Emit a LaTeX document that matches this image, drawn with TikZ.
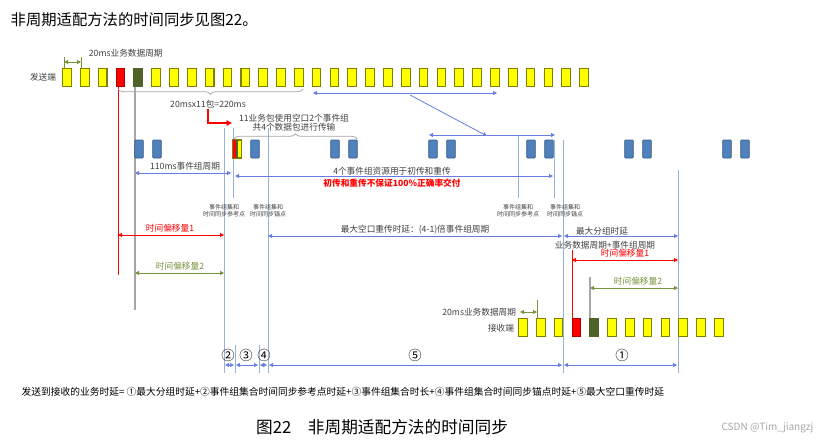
\documentclass[tikz,border=0pt]{standalone}
\usepackage{fontspec}
\setmainfont{Noto Sans CJK SC}
\usetikzlibrary{arrows.meta,decorations.pathreplacing}
\definecolor{yel}{HTML}{FFFF00}
\definecolor{yelb}{HTML}{7F7F00}
\definecolor{dgreen}{HTML}{4F6228}
\definecolor{bluebox}{HTML}{4F81BD}
\definecolor{blueb}{HTML}{385D8A}
\definecolor{lblue}{HTML}{95B3D7}
\definecolor{olive}{HTML}{77933C}
\definecolor{gline}{HTML}{A6A6A6}
\definecolor{txt}{HTML}{404040}
\tikzset{
 ybox/.style={draw=yelb,fill=yel,line width=0.8pt,minimum width=6.5pt,minimum height=14pt,inner sep=0pt},
 bbox/.style={draw=blueb,fill=bluebox,line width=0.6pt,rounded corners=0.8pt,minimum width=6.5pt,minimum height=13.5pt,inner sep=0pt},
 vl/.style={lblue,line width=0.6pt},
 barr/.style={lblue!70!blue,line width=0.6pt,{Triangle[length=3pt,width=3pt]}-{Triangle[length=3pt,width=3pt]}},
 rarr/.style={red,line width=0.6pt,{Triangle[length=3pt,width=3pt]}-{Triangle[length=3pt,width=3pt]}},
 oarr/.style={olive,line width=0.6pt,{Triangle[length=3pt,width=3pt]}-{Triangle[length=3pt,width=3pt]}},
 lab/.style={font=\fontsize{6.5}{7}\selectfont,text=txt,inner sep=0.5pt},
 tiny/.style={font=\fontsize{4.5}{5.2}\selectfont,text=txt,align=center,inner sep=0pt},
 num/.style={font=\fontsize{10}{11}\selectfont,inner sep=0pt},
}
\begin{document}
\begin{tikzpicture}[x=0.75pt,y=-0.75pt]
\useasboundingbox (0,0) rectangle (830,442);
\node[anchor=west,font=\fontsize{11.5}{13}\selectfont] (title) at (6,20) {非周期适配方法的时间同步见图22。};
% vertical lines (behind boxes)
\draw[red,line width=0.6pt] (118,87)--(118,275);
\draw[gline,line width=0.8pt] (135,87)--(135,310);
\draw[vl] (224,128)--(224,373);
\draw[vl] (233,128)--(233,198);
\draw[vl] (268,128)--(268,373);
\draw[vl] (518,135)--(518,198);
\draw[vl] (554,140)--(554,198);
\draw[vl] (563,140)--(563,373);
\draw[vl] (678,170)--(678,373);
\draw[vl] (235,345)--(235,373);
\draw[vl] (259,345)--(259,373);
% sender row
\foreach \i in {0,...,29}{
  \pgfmathsetmacro\xx{67+17.83*\i}
  \node[ybox] (s\i) at (\xx,77.5) {};
}
\node[ybox,fill=red,draw=red!70!black] (sr) at (s3) {};
\node[ybox,fill=dgreen,draw=dgreen] (sg) at (s4) {};
\node[lab,anchor=east] (snd) at (57,77) {发送端};
\node[lab,anchor=west] (per1) at (88,53) {20ms业务数据周期};
\coordinate (pa) at (64,62); \coordinate (pb) at (81,62);
\draw[olive,line width=0.6pt] (64,57)--(64,68) (81,57)--(81,68);
\draw[oarr] (pa)--(pb);
% brace
\draw[gline,line width=0.6pt,decorate,decoration={brace,mirror,amplitude=4pt}] (118,89)--(303,89);
\node[lab] (b220) at (208,104) {20msx11包=220ms};
\coordinate (ra) at (208,109); \coordinate (rb) at (232,123);
\draw[red,line width=1pt,-{Triangle[length=4pt,width=4pt]}] (ra)|-(rb);
\node[lab,align=center] (b11) at (294,123) {11业务包使用空口2个事件组\\共4个数据包进行传输};
\draw[gline,line width=0.6pt,decorate,decoration={brace,amplitude=4pt}] (234,139)--(357,139);
% blue arrows top
\coordinate (ta) at (313,93); \coordinate (tb) at (497,93);
\draw[barr] (ta)--(tb);
\coordinate (da) at (410,95); \coordinate (db) at (487,136);
\draw[lblue!70!blue,line width=0.6pt,-{Triangle[length=3pt,width=3pt]}] (da)--(db);
\coordinate (ea) at (429,135); \coordinate (eb) at (555,135);
\draw[barr] (ea)--(eb);
% blue boxes
\foreach \i in {0,...,6}{
  \pgfmathsetmacro\xx{139+98*\i}
  \node[bbox] (ba\i) at (\xx,149) {};
  \node[bbox] (bb\i) at (\xx+18,149) {};
}
\node[ybox,minimum height=13.5pt,draw=yelb] (mix) at (ba1) {};
\fill[red] ([xshift=0.4pt,yshift=-0.4pt]mix.north west) rectangle ([xshift=2.6pt,yshift=0.4pt]mix.south west);
\fill[dgreen] ([xshift=2.6pt,yshift=-0.4pt]mix.north west) rectangle ([xshift=4.5pt,yshift=0.4pt]mix.south west);
% period arrows
\node[lab] (p110) at (185,166) {110ms事件组周期};
\coordinate (qa) at (135,173); \coordinate (qb) at (231,173);
\draw[barr] (qa)--(qb);
\coordinate (wa) at (235,176); \coordinate (wb) at (553,176);
\draw[barr] (wa)--(wb);
\node[lab,fill=white] (p4) at (392,171) {4个事件组资源用于初传和重传};
\node[lab,text=red,font=\fontsize{6.5}{7}\selectfont\bfseries] (pr) at (392,183) {初传和重传不保证100\%正确率交付};
% small labels
\node[tiny] (l1) at (224,211) {事件组集和\\时间同步参考点};
\node[tiny] (l2) at (268,211) {事件组集和\\时间同步锚点};
\node[tiny] (l3) at (518,211) {事件组集和\\时间同步参考点};
\node[tiny] (l4) at (565,211) {事件组集和\\时间同步锚点};
% offsets left
\node[lab,text=red] (o1) at (170,228) {时间偏移量1};
\coordinate (o1a) at (118,235); \coordinate (o1b) at (224,235);
\draw[rarr] (o1a)--(o1b);
\node[lab,text=olive] (o2) at (180,266) {时间偏移量2};
\coordinate (o2a) at (135,273); \coordinate (o2b) at (224,273);
\draw[oarr] (o2a)--(o2b);
\node[lab] (mx) at (415,230) {最大空口重传时延：(4-1)倍事件组周期};
\coordinate (ma) at (268,236); \coordinate (mb) at (562,236);
\draw[barr] (ma)--(mb);
\coordinate (na) at (564,236); \coordinate (nb) at (678,236);
\draw[barr] (na)--(nb);
\node[lab] (mg) at (602,231) {最大分组时延};
\node[lab] (mg2) at (605,245) {业务数据周期+事件组周期};
% offsets right
\draw[red,line width=0.6pt] (572,250)--(572,330);
\node[lab,text=red] (r1) at (625,253) {时间偏移量1};
\coordinate (r1a) at (572,260); \coordinate (r1b) at (678,260);
\draw[rarr] (r1a)--(r1b);
\draw[gline,line width=0.8pt] (590,277)--(590,330);
\node[lab,text=olive] (r2) at (638,281) {时间偏移量2};
\coordinate (r2a) at (590,288); \coordinate (r2b) at (678,288);
\draw[oarr] (r2a)--(r2b);
% receiver
\foreach \i in {0,...,11}{
  \pgfmathsetmacro\xx{523+17.8*\i}
  \node[ybox] (r\i) at (\xx,327.5) {};
}
\node[ybox,fill=red,draw=red!70!black] (rr) at (r3) {};
\node[ybox,fill=dgreen,draw=dgreen] (rg) at (r4) {};
\node[lab,anchor=east] (rcv) at (515,328) {接收端};
\node[lab,anchor=east] (per2) at (517,312) {20ms业务数据周期};
\draw[olive,line width=0.6pt] (537,300)--(537,318);
\coordinate (qq1) at (520,312); \coordinate (qq2) at (537,312);
\draw[oarr] (qq1)--(qq2);
% bottom
\node[num] (n2) at (228,355) {②};
\node[num] (n3) at (246,355) {③};
\node[num] (n4) at (264,355) {④};
\node[num] (n5) at (415,355) {⑤};
\node[num] (n1) at (622,355) {①};
\foreach \a/\b in {224/235,235/259,259/268,268/563,563/678}{
  \draw[barr] (\a+1,365)--(\b-1,365);
}
\node[anchor=west,font=\fontsize{7.3}{8}\selectfont] (form) at (17,392) {发送到接收的业务时延= ①最大分组时延+②事件组集合时间同步参考点时延+③事件组集合时长+④事件组集合时间同步锚点时延+⑤最大空口重传时延};
\node[font=\fontsize{12.5}{14}\selectfont] (cap) at (382,427) {图22\quad 非周期适配方法的时间同步};
\node[anchor=east,font=\fontsize{7.5}{8}\selectfont,text=gray!70] (wm) at (818,428) {CSDN @Tim\_jiangzj};
\end{tikzpicture}
\end{document}
